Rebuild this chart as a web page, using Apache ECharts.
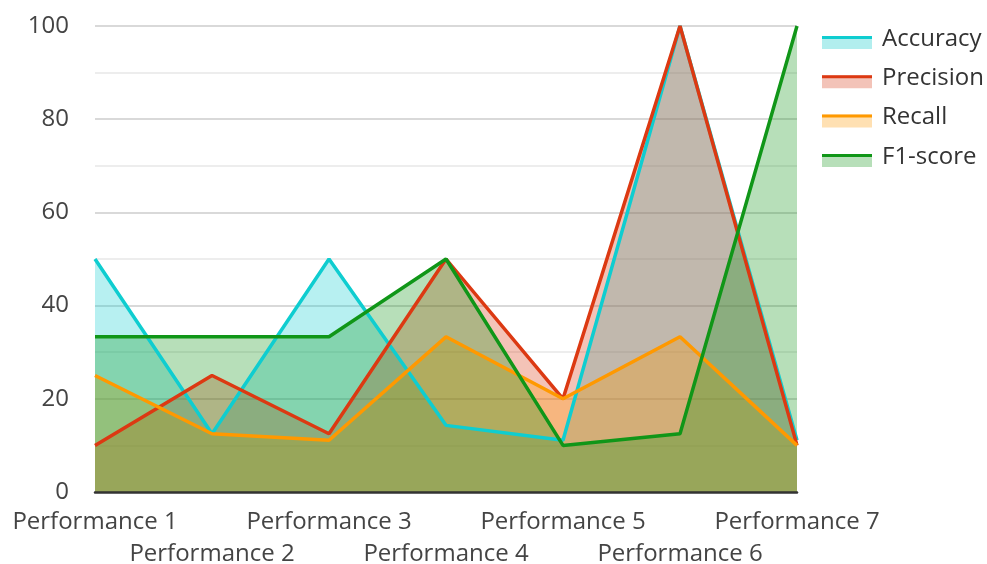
<!DOCTYPE html>
<html>
<head>
<meta charset="utf-8">
<script src="https://cdn.jsdelivr.net/npm/echarts@6/dist/echarts.min.js"></script>
<style>
  html, body { margin: 0; padding: 0; background: #fff; }
  #chart { width: 987px; height: 564px; }
</style>
</head>
<body>
<div id="chart"></div>
<script>
// Category labels along the x axis
const categories = ['Performance 1', 'Performance 2', 'Performance 3', 'Performance 4', 'Performance 5', 'Performance 6', 'Performance 7'];

// Metric values per category
const accuracy  = [50, 12.5, 50, 14.3, 11.1, 100, 11.1];
const precision = [10, 25, 12.5, 50, 20, 100, 10];
const recall    = [25, 12.5, 11.1, 33.3, 20, 33.3, 10];
const f1score   = [33.3, 33.3, 33.3, 50, 10, 12.5, 100];

const seriesNames = ['Accuracy', 'Precision', 'Recall', 'F1-score'];
const seriesData = [accuracy, precision, recall, f1score];
const lineColors = ['#0fcdd0', '#dc3912', '#ff9900', '#109618'];
const fillColors = ['#b2eeee', '#f3c3b8', '#ffe0b2', '#b7dfb9'];

const FONT = '"Open Sans", "Noto Sans", sans-serif';

const chart = echarts.init(document.getElementById('chart'), null, { renderer: 'canvas' });

// Hand-built legend: light swatch with a coloured bar on top, then the name
const legendGraphics = [];
seriesNames.forEach((name, i) => {
  const y = 36 + i * 39.3;
  legendGraphics.push({
    type: 'rect', left: 822, top: y, shape: { width: 50, height: 13 },
    style: { fill: fillColors[i] }, silent: true
  });
  legendGraphics.push({
    type: 'rect', left: 822, top: y, shape: { width: 50, height: 3 },
    style: { fill: lineColors[i] }, silent: true
  });
  legendGraphics.push({
    type: 'text', x: 882, y: y + 3,
    style: { text: name, fill: '#333', font: '24px ' + FONT, textVerticalAlign: 'middle', verticalAlign: 'middle' },
    silent: true
  });
});

// Filled areas first, then all outlines on top of every fill
const areaSeries = seriesNames.map((name, i) => ({
  name: name + ' area',
  type: 'line',
  data: seriesData[i],
  showSymbol: false,
  symbol: 'none',
  lineStyle: { width: 0, opacity: 0 },
  areaStyle: { color: lineColors[i], opacity: 0.3 },
  z: 2
}));
const lineSeries = seriesNames.map((name, i) => ({
  name,
  type: 'line',
  data: seriesData[i],
  showSymbol: false,
  symbol: 'none',
  lineStyle: { color: lineColors[i], width: 3.5 },
  itemStyle: { color: lineColors[i] },
  z: 3
}));

chart.setOption({
  backgroundColor: '#fff',
  animation: false,
  grid: { left: 95, right: 190, top: 26, bottom: 72, containLabel: false, outerBoundsMode: 'none' },
  xAxis: {
    type: 'category',
    data: categories,
    boundaryGap: false,
    axisLine: { lineStyle: { color: '#333', width: 2.5 } },
    axisTick: { show: false },
    splitLine: { show: false },
    z: 5,
    axisLabel: {
      interval: 0,
      hideOverlap: false,
      color: '#444',
      fontFamily: FONT,
      fontSize: 24,
      lineHeight: 32,
      margin: 14,
      formatter: (v, i) => (i % 2 === 1 ? '\n' + v : v)
    }
  },
  yAxis: {
    type: 'value',
    min: 0, max: 100, interval: 20,
    axisLine: { show: false },
    axisTick: { show: false },
    axisLabel: { color: '#444', fontFamily: FONT, fontSize: 24, margin: 26 },
    splitLine: { lineStyle: { color: '#cccccc', width: 1.5 } },
    minorTick: { show: false, splitNumber: 2 },
    minorSplitLine: { show: true, lineStyle: { color: '#e8e8e8', width: 1.5 } }
  },
  series: areaSeries.concat(lineSeries),
  graphic: legendGraphics
});
</script>
</body>
</html>
